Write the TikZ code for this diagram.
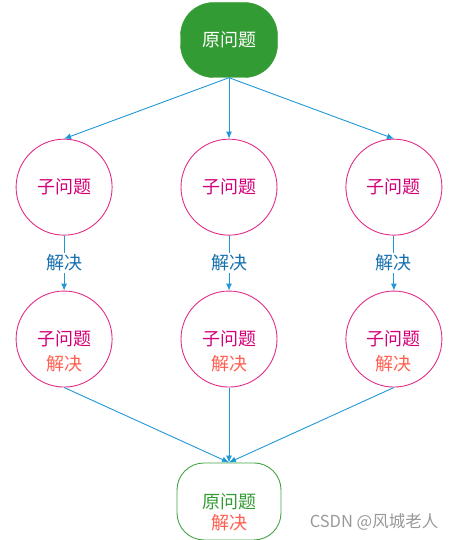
\documentclass[tikz,border=0pt]{standalone}
\usepackage{fontspec}
\setmainfont{Noto Sans CJK SC}
\usepackage{tikz}
\usetikzlibrary{
    arrows.meta,
    positioning
}
\definecolor{probgreen}{RGB}{51,155,51}
\definecolor{endgreen}{RGB}{70,165,70}
\definecolor{subpink}{RGB}{226,45,135}
\definecolor{subtext}{RGB}{212,0,120}
\definecolor{solvered}{RGB}{255,95,80}
\definecolor{arrblue}{RGB}{32,152,215}
\definecolor{labblue}{RGB}{22,112,175}
\tikzset{
    rootbox/.style={
        draw=probgreen,
        rectangle,
        rounded corners=33pt,
        minimum width=97pt,
        minimum height=75pt,
        fill=probgreen,
        text=white,
        font=\fontsize{18}{21}\selectfont
    },
    endbox/.style={
        draw=endgreen,
        rectangle,
        rounded corners=27pt,
        minimum width=104pt,
        minimum height=77pt,
        line width=0.9pt,
        fill=white,
        text=probgreen,
        font=\fontsize{18}{21}\selectfont
    },
    subcirc/.style={
        draw=subpink,
        circle,
        inner sep=0pt,
        minimum size=96pt,
        line width=0.9pt,
        text=subtext,
        font=\fontsize{18}{21}\selectfont
    },
    solvetxt/.style={
        text=solvered,
        inner sep=0pt,
        font=\fontsize{18}{21}\selectfont
    },
    steplab/.style={
        fill=white,
        inner sep=2pt,
        text=labblue,
        font=\fontsize{18}{21}\selectfont
    },
    arr/.style={
        -{Latex[length=7pt,width=6pt]},
        draw=arrblue,
        line width=0.9pt
    }
}

\begin{document}
\begin{tikzpicture}[
    node distance=61pt,
    wmark/.style={
        text=black!40,
        font=\fontsize{16.5}{19}\selectfont
    }
]
\useasboundingbox (0,0) rectangle (459pt,-540pt);

\node[rootbox] (root) at (229pt,-40pt) {原问题};

\node[subcirc, below=61pt of root] (sub2) {子问题};
\node[subcirc, left=68pt of sub2] (sub1) {子问题};
\node[subcirc, right=68pt of sub2] (sub3) {子问题};

\node[subcirc, below=55pt of sub1] (done1) {子问题};
\node[subcirc, below=55pt of sub2] (done2) {子问题};
\node[subcirc, below=55pt of sub3] (done3) {子问题};
\node[solvetxt] (sol1) at ([yshift=-25pt]done1.center) {解决};
\node[solvetxt] (sol2) at ([yshift=-25pt]done2.center) {解决};
\node[solvetxt] (sol3) at ([yshift=-25pt]done3.center) {解决};

\node[endbox, below=75pt of done2] (final) {原问题};
\node[solvetxt] (finalsol) at ([yshift=-21pt]final.center) {解决};

\draw[arr] (root.south) -- (sub1.north);
\draw[arr] (root.south) -- (sub2.north);
\draw[arr] (root.south) -- (sub3.north);

\draw[arr] (sub1) -- node[steplab] {解决} (done1);
\draw[arr] (sub2) -- node[steplab] {解决} (done2);
\draw[arr] (sub3) -- node[steplab] {解决} (done3);

\draw[arr] (done1.south) -- (final.north);
\draw[arr] (done2.south) -- (final.north);
\draw[arr] (done3.south) -- (final.north);

\node[wmark] (credit) at (374pt,-522pt) {CSDN @风城老人};

\end{tikzpicture}
\end{document}
